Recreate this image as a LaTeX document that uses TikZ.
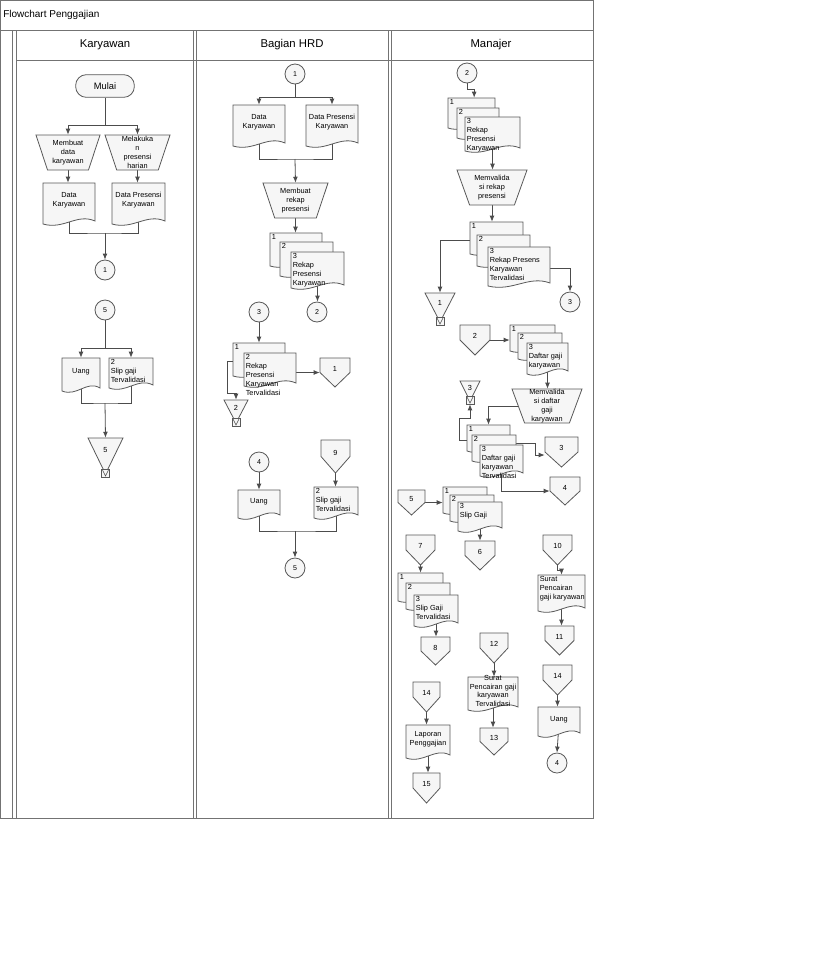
\documentclass[tikz,border=0pt]{standalone}
\usepackage{fontspec}
\setmainfont{Liberation Sans}
\usetikzlibrary{arrows.meta,calc}
\pgfdeclarelayer{back}\pgfdeclarelayer{bg}\pgfsetlayers{back,bg,main}
\tikzset{
 shp/.style={draw=black!65, fill=gray!7, line width=0.6pt},
 box/.style={inner sep=0pt, draw=none},
 txt/.style={inner sep=0pt, align=center, font=\fontsize{5.5}{6.6}\selectfont},
 txtl/.style={inner sep=0pt, align=left, anchor=north west, font=\fontsize{5.5}{6.6}\selectfont},
 arr/.style={draw=black!70, line width=0.6pt, -{Latex[length=4.5pt,width=3.6pt]}},
 ln/.style={draw=black!70, line width=0.6pt},
 circ/.style={circle, shp, minimum size=15pt, inner sep=0pt, font=\fontsize{5.3}{6.4}\selectfont},
 term/.style={shp, rounded corners=8pt, minimum width=44pt, minimum height=17pt, inner sep=0pt, font=\fontsize{7}{8}\selectfont},
 lane/.style={draw=black!55, line width=0.7pt},
}
\newcommand\BoxAt[5]{%
 \pgfmathsetmacro\Cx{(#2+#4)/2}\pgfmathsetmacro\Cy{(#3+#5)/2}%
 \pgfmathsetmacro\Ww{(#4-#2)*0.75}\pgfmathsetmacro\Hh{(#5-#3)*0.75}%
 \node[box, minimum width=\Ww pt, minimum height=\Hh pt] (#1) at (\Cx,\Cy) {};}
\newcommand\DocShape[5]{\BoxAt{#1}{#2}{#3}{#4}{#5}%
 \draw[shp] (#2,#3) -- (#4,#3) -- ({#4},{#5-7}) .. controls ({#4-0.35*(#4-#2)},{#5-15}) and ({#2+0.4*(#4-#2)},{#5+2}) .. ({#2},{#5-4}) -- cycle;}
\newcommand\Doc[6]{\DocShape{#1}{#2}{#3}{#4}{#5}\node[txt] at ({(#2+#4)/2},{#3+0.38*(#5-#3)}) {#6};}
\newcommand\DocL[6]{\DocShape{#1}{#2}{#3}{#4}{#5}\node[txtl] at ({#2+1.5},{#3+1.5}) {#6};}
\newcommand\Off[6]{\BoxAt{#1}{#2}{#3}{#4}{#5}%
 \draw[shp] (#2,#3) -- (#4,#3) -- ({#4},{#3+0.5*(#5-#3)}) -- ({(#2+#4)/2},{#5}) -- ({#2},{#3+0.5*(#5-#3)}) -- cycle;
 \node[txt] at ({(#2+#4)/2},{#3+0.38*(#5-#3)}) {#6};}
\newcommand\Trap[6]{\BoxAt{#1}{#2}{#3}{#4}{#5}%
 \draw[shp] (#2,#3) -- (#4,#3) -- ({#4-0.18*(#4-#2)},{#5}) -- ({#2+0.18*(#4-#2)},{#5}) -- cycle;
 \node[txt] at ({(#2+#4)/2},{(#3+#5)/2}) {#6};}
\newcommand\Tri[6]{\BoxAt{#1}{#2}{#3}{#4}{#5}%
 \draw[shp] (#2,#3) -- (#4,#3) -- ({(#2+#4)/2},{#5-3}) -- cycle;
 \draw[shp] ({(#2+#4)/2-4},{#5-8}) rectangle ({(#2+#4)/2+4},{#5});
 \draw[black!70, line width=0.4pt] ({(#2+#4)/2-3},{#5-7}) -- ({(#2+#4)/2},{#5-1}) -- ({(#2+#4)/2+3},{#5-7});
 \node[txt] at ({(#2+#4)/2},{#3+0.3*(#5-#3)}) {#6};}
\begin{document}
\begin{tikzpicture}[x=0.75pt,y=-0.75pt]
\useasboundingbox (0,0) rectangle (819,979);
\begin{pgfonlayer}{back}\fill[white] (0,0) rectangle (819,979);\end{pgfonlayer}
% pool and lanes
\draw[lane] (0,0) rectangle (593,818);
\draw[lane] (0,30) -- (593,30);
\draw[lane] (16,60) -- (593,60);
\draw[lane] (12,30) -- (12,818);
\draw[lane] (16,30) -- (16,818);
\draw[lane] (193,30) -- (193,818);
\draw[lane] (196,30) -- (196,818);
\draw[lane] (388,30) -- (388,818);
\draw[lane] (391,30) -- (391,818);
\node[anchor=west, inner sep=0pt, font=\fontsize{7.5}{9}\selectfont] (title) at (3,15) {Flowchart Penggajian};
\node[font=\fontsize{8.5}{10}\selectfont] (hk) at (105,45) {Karyawan};
\node[font=\fontsize{8.5}{10}\selectfont] (hh) at (292,45) {Bagian HRD};
\node[font=\fontsize{8.5}{10}\selectfont] (hm) at (491,45) {Manajer};

% ---------------- Karyawan
\node[term] (mulai) at (105,86) {Mulai};
\Trap{t1}{36}{135}{100}{170}{Membuat\\data\\karyawan}
\Trap{t2}{105}{135}{170}{170}{\raisebox{5pt}{\parbox{40pt}{\centering Melakuka\\n\\presensi\\harian}}}
\Doc{d1}{43}{183}{95}{228}{Data\\Karyawan}
\Doc{d2}{112}{183}{165}{228}{Data Presensi\\Karyawan}
\node[circ] (c1) at (105,270) {1};
\node[circ] (c5) at (105,310) {5};
\Doc{u1}{62}{358}{100}{395}{Uang}
\DocL{sg1}{109}{358}{153}{392}{2\\Slip gaji\\Tervalidasi}
\Tri{tr5}{88}{438}{123}{477}{5}
\coordinate (s1) at (105,125);
\coordinate (j1) at (105,233);
\coordinate (s2) at (105,348);
\coordinate (j2) at (105,403);

% ---------------- HRD
\node[circ] (h1) at (295,74) {1};
\Doc{hd1}{233}{105}{285}{150}{Data\\Karyawan}
\Doc{hd2}{306}{105}{358}{150}{Data Presensi\\Karyawan}
\Trap{tp1}{263}{183}{328}{218}{Membuat\\rekap\\presensi}
\DocL{ra}{270}{233}{322}{270}{1}
\DocL{rb}{280}{242}{333}{280}{2}
\DocL{r}{291}{252}{344}{292}{3\\Rekap\\Presensi\\Karyawan}
\node[circ] (h2) at (317,312) {2};
\node[circ] (h3) at (259,312) {3};
\DocL{va}{233}{343}{285}{380}{1}
\DocL{v}{244}{353}{296}{390}{2\\Rekap\\Presensi\\Karyawan\\Tervalidasi}
\Off{o1}{320}{358}{350}{387}{1}
\Tri{tr2}{224}{400}{248}{426}{2}
\node[circ] (h4) at (259,462) {4};
\Doc{hu}{238}{490}{280}{522}{Uang}
\Off{o9}{321}{440}{350}{473}{9}
\DocL{hs}{314}{487}{358}{522}{2\\Slip gaji\\Tervalidasi}
\node[circ] (h5) at (295,568) {5};
\coordinate (s3) at (295,97);
\coordinate (j3) at (295,159);
\coordinate (k1) at (227,393);
\coordinate (j4) at (295,531);

% ---------------- Manajer
\node[circ] (m2) at (467,73) {2};
\DocL{pa}{448}{98}{495}{132}{1}
\DocL{pb}{457}{108}{499}{142}{2}
\DocL{p}{465}{117}{520}{155}{3\\Rekap\\Presensi\\Karyawan}
\Trap{tv1}{457}{170}{527}{205}{Memvalida\\si rekap\\presensi}
\DocL{qa}{470}{222}{523}{258}{1}
\DocL{qb}{477}{235}{530}{270}{2}
\DocL{q}{488}{247}{550}{290}{3\\Rekap Presens\\Karyawan\\Tervalidasi}
\Tri{tr1}{425}{293}{455}{325}{1}
\node[circ] (m3) at (570,302) {3};
\Off{o2}{460}{325}{490}{355}{2}
\DocL{ea}{510}{325}{555}{355}{1}
\DocL{eb}{518}{333}{562}{363}{2}
\DocL{e}{527}{343}{568}{378}{3\\Daftar gaji\\karyawan}
\Trap{tv2}{512}{389}{582}{423}{Memvalida\\si daftar\\gaji\\karyawan}
\Tri{tr3}{460}{381}{480}{404}{3}
\DocL{fa}{467}{425}{510}{455}{1}
\DocL{fb}{472}{435}{516}{465}{2}
\DocL{f}{480}{445}{523}{480}{3\\Daftar gaji\\karyawan\\Tervalidasi}
\Off{o3}{545}{437}{578}{467}{3}
\Off{o4}{550}{477}{580}{505}{4}
\Off{o5}{398}{490}{425}{515}{5}
\DocL{ga}{443}{487}{487}{517}{1}
\DocL{gb}{450}{495}{494}{525}{2}
\DocL{g}{458}{502}{502}{535}{3\\Slip Gaji}
\Off{o6}{465}{541}{495}{570}{6}
\Off{o7}{406}{535}{435}{565}{7}
\DocL{ha}{398}{573}{443}{605}{1}
\DocL{hb}{406}{583}{450}{613}{2}
\DocL{hh3}{414}{595}{458}{630}{3\\Slip Gaji\\Tervalidasi}
\Off{o8}{421}{637}{450}{665}{8}
\Off{o10}{543}{535}{572}{565}{10}
\DocL{sp}{538}{575}{585}{615}{Surat\\Pencairan\\gaji karyawan}
\Off{o11}{545}{626}{574}{655}{11}
\Off{o12}{480}{633}{508}{663}{12}
\Doc{sc}{468}{677}{518}{714}{\raisebox{3pt}{\parbox{50pt}{\centering Surat\\Pencairan gaji\\karyawan\\Tervalidasi}}}
\Off{o13}{480}{728}{508}{755}{13}
\Off{o14a}{413}{682}{440}{712}{14}
\Doc{lp}{406}{725}{450}{762}{Laporan\\Penggajian}
\Off{o15}{413}{773}{440}{803}{15}
\Off{o14b}{543}{665}{572}{695}{14}
\Doc{mu}{538}{707}{580}{740}{Uang}
\node[circ] (m4) at (557,763) {4};
\coordinate (k2) at (459,418);
\coordinate (k3a) at (516,443);
\coordinate (k3) at (535,455);

\begin{pgfonlayer}{bg}
% Karyawan
\draw[arr] (mulai.south) -- (s1) -| (t1.north);
\draw[arr] (s1) -| (t2.north);
\draw[arr] (t1.south) -- (t1.south |- d1.north);
\draw[arr] (t2.south) -- (t2.south |- d2.north);
\draw[ln] (d1.center) |- (j1) -| (d2.center);
\draw[arr] (j1) -- (c1.north);
\draw[arr] (c5.south) -- (s2) -| (u1.north);
\draw[arr] (s2) -| (sg1.north);
\draw[ln] (u1.center) |- (j2) -| (sg1.center);
\draw[arr] (j2) -- (tr5.north);
% HRD
\draw[arr] (h1.south) -- (s3) -| (hd1.north);
\draw[arr] (s3) -| (hd2.north);
\draw[ln] (hd1.center) |- (j3) -| (hd2.center);
\draw[arr] (j3) -- (tp1.north);
\draw[arr] (tp1.south) -- (tp1.south |- ra.north);
\draw[arr] (r.center) -- (r.center |- h2.north);
\draw[arr] (h3.south) -- (h3.south |- va.north);
\draw[arr] (v.center |- o1.west) -- (o1.west);
\draw[arr] (va.center) -| (k1) -| (tr2.north);
\draw[arr] (h4.south) -- (h4.south |- hu.north);
\draw[arr] (o9.south) -- (o9.south |- hs.north);
\draw[ln] (hu.center) |- (j4) -| (hs.center);
\draw[arr] (j4) -- (h5.north);
% Manajer
\draw[arr] (m2.south) -- ++(0,6) -| ([xshift=2pt]pa.north);
\draw[arr] (p.center) -- (p.center |- tv1.north);
\draw[arr] (tv1.south) -- (tv1.south |- qa.north);
\draw[arr] (qa.center) -| (tr1.north);
\draw[arr] (q.center) -| (m3.north);
\draw[arr] (o2.center) -- (ea.west);
\draw[arr] (e.center) -- (e.center |- tv2.north);
\draw[arr] (tv2.center) -| (fa.north);
\draw[arr] (fa.center) -| (k2) -| (tr3.south);
\draw[arr] (k3a) -| (k3) -- (o3.west |- k3);
\draw[arr] (f.center) |- (o4.west);
\draw[arr] (o5.center) -- (o5.center -| ga.west);
\draw[arr] (g.center) -- (g.center |- o6.north);
\draw[arr] (o7.south) -- (o7.south |- ha.north);
\draw[arr] (hh3.center) -- (hh3.center |- o8.north);
\draw[arr] (o10.south) -- ++(0,5) -| (sp.north);
\draw[arr] (sp.center) -- (sp.center |- o11.north);
\draw[arr] (o12.south) -- (o12.south |- sc.north);
\draw[arr] (sc.center) -- (sc.center |- o13.north);
\draw[arr] (o14a.south) -- (o14a.south |- lp.north);
\draw[arr] (lp.center) -- (lp.center |- o15.north);
\draw[arr] (o14b.south) -- (o14b.south |- mu.north);
\draw[arr] (mu.center) -- (m4.north);
\end{pgfonlayer}
\end{tikzpicture}
\end{document}
